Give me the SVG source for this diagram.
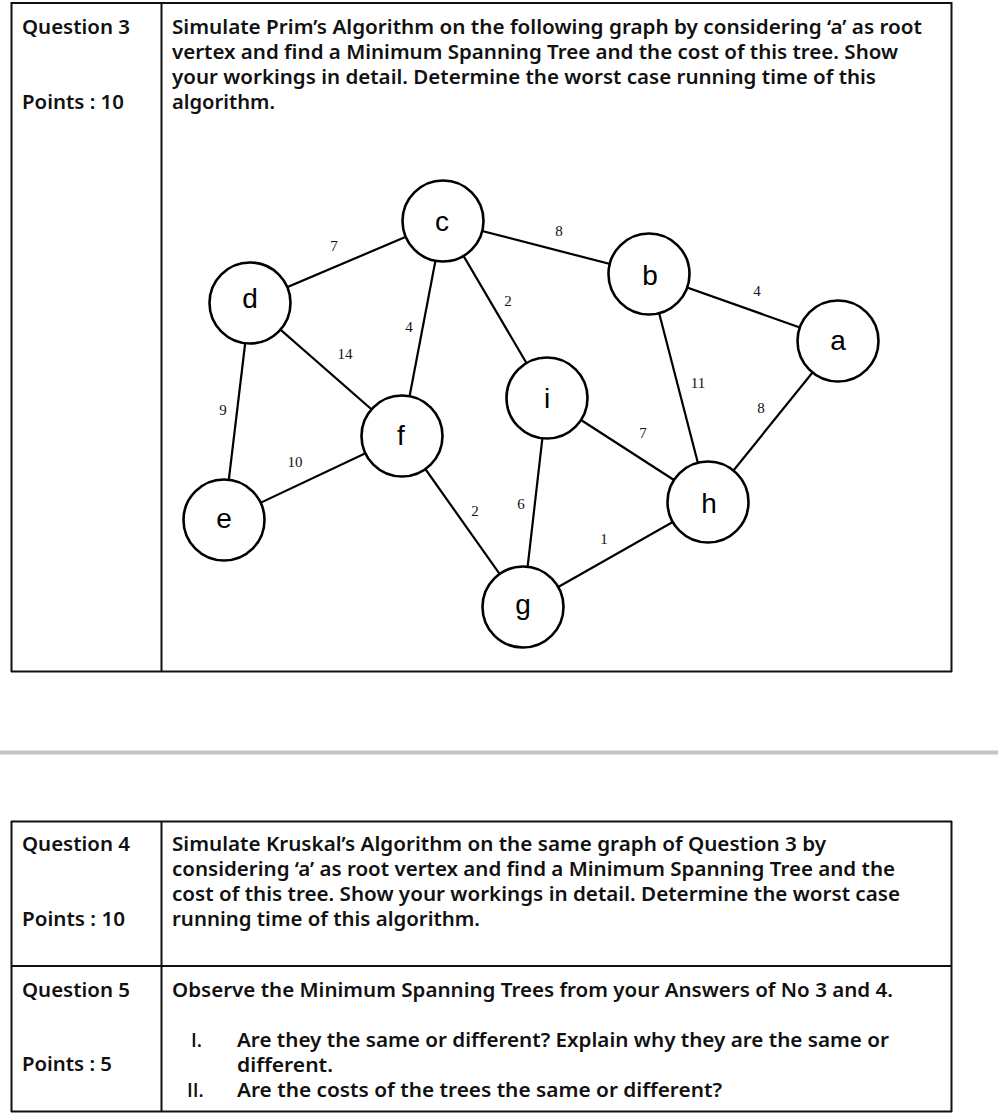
<svg xmlns="http://www.w3.org/2000/svg" width="998" height="1113" viewBox="0 0 998 1113">
<style>
.t{font-family:"Noto Sans","Open Sans",sans-serif;font-size:19px;font-weight:600;fill:#111}
.rn{font-family:"Open Sans","Liberation Sans",sans-serif}
.tb{fill:none;stroke:#111;stroke-width:2}
.edge{stroke:#000;stroke-width:2.2;fill:none}
.node circle{fill:#fff;stroke:#000;stroke-width:2.6}
.nl{font-family:"Liberation Sans",Arial,sans-serif;font-size:28px;fill:#000;text-anchor:middle}
.wl{font-family:"Liberation Serif","Times New Roman",serif;font-size:15px;fill:#111;text-anchor:middle}
</style>
<rect width="998" height="1113" fill="#fff"/>
<g id="table-q3">
<line class="tb" x1="11" y1="3" x2="952" y2="3"/>
<line class="tb" x1="11.5" y1="2" x2="11.5" y2="672"/>
<line class="tb" x1="161.5" y1="2" x2="161.5" y2="672"/>
<line class="tb" x1="951.5" y1="2" x2="951.5" y2="672"/>
<line class="tb" x1="11" y1="671.5" x2="952" y2="671.5"/>
<text class="t" x="22" y="34" textLength="108" lengthAdjust="spacingAndGlyphs">Question 3</text>
<text class="t" x="22" y="109" textLength="102" lengthAdjust="spacingAndGlyphs">Points : 10</text>
<text class="t" x="172" y="34" textLength="750" lengthAdjust="spacingAndGlyphs">Simulate Prim’s Algorithm on the following graph by considering ‘a’ as root</text>
<text class="t" x="172" y="59" textLength="726" lengthAdjust="spacingAndGlyphs">vertex and find a Minimum Spanning Tree and the cost of this tree. Show</text>
<text class="t" x="172" y="84" textLength="704" lengthAdjust="spacingAndGlyphs">your workings in detail. Determine the worst case running time of this</text>
<text class="t" x="172" y="109" textLength="103" lengthAdjust="spacingAndGlyphs">algorithm.</text>
</g>
<g id="connectors">
<line class="edge" x1="250" y1="303" x2="443" y2="221"/>
<line class="edge" x1="250" y1="303" x2="402" y2="436"/>
<line class="edge" x1="250" y1="303" x2="224" y2="520"/>
<line class="edge" x1="443" y1="221" x2="402" y2="436"/>
<line class="edge" x1="443" y1="221" x2="547" y2="398"/>
<line class="edge" x1="443" y1="221" x2="649" y2="274"/>
<line class="edge" x1="649" y1="274" x2="838" y2="341"/>
<line class="edge" x1="649" y1="274" x2="708" y2="502"/>
<line class="edge" x1="838" y1="341" x2="708" y2="502"/>
<line class="edge" x1="547" y1="398" x2="708" y2="502"/>
<line class="edge" x1="547" y1="398" x2="523" y2="607"/>
<line class="edge" x1="402" y1="436" x2="224" y2="520"/>
<line class="edge" x1="402" y1="436" x2="523" y2="607"/>
<line class="edge" x1="523" y1="607" x2="708" y2="502"/>
<g id="weights">
<text class="wl" x="334" y="251">7</text>
<text class="wl" x="559" y="236">8</text>
<text class="wl" x="508" y="306">2</text>
<text class="wl" x="757" y="296">4</text>
<text class="wl" x="409" y="332">4</text>
<text class="wl" x="345" y="359">14</text>
<text class="wl" x="698" y="388">11</text>
<text class="wl" x="223" y="415">9</text>
<text class="wl" x="761" y="413">8</text>
<text class="wl" x="643" y="438">7</text>
<text class="wl" x="295" y="467">10</text>
<text class="wl" x="475" y="516">2</text>
<text class="wl" x="521" y="509">6</text>
<text class="wl" x="604" y="544">1</text>
</g>
</g>
<g id="node-c" class="node"><circle cx="443" cy="221" r="40.5"/><text class="nl" x="442" y="231">c</text></g>
<g id="node-d" class="node"><circle cx="250" cy="303" r="40.5"/><text class="nl" x="250" y="308">d</text></g>
<g id="node-b" class="node"><circle cx="649" cy="274" r="40.5"/><text class="nl" x="650" y="285">b</text></g>
<g id="node-a" class="node"><circle cx="838" cy="341" r="40.5"/><text class="nl" x="838" y="350">a</text></g>
<g id="node-i" class="node"><circle cx="547" cy="398" r="40.5"/><text class="nl" x="547" y="408">i</text></g>
<g id="node-f" class="node"><circle cx="402" cy="436" r="40.5"/><text class="nl" x="401" y="445">f</text></g>
<g id="node-e" class="node"><circle cx="224" cy="520" r="40.5"/><text class="nl" x="224" y="528">e</text></g>
<g id="node-g" class="node"><circle cx="523" cy="607" r="40.5"/><text class="nl" x="523" y="614">g</text></g>
<g id="node-h" class="node"><circle cx="708" cy="502" r="40.5"/><text class="nl" x="709" y="513">h</text></g>
<rect id="separator" x="0" y="750.5" width="998" height="4" fill="#c4c4c4"/>
<g id="table-q4-q5">
<line class="tb" x1="11" y1="821.5" x2="952" y2="821.5"/>
<line class="tb" x1="11.5" y1="821" x2="11.5" y2="1112"/>
<line class="tb" x1="161.5" y1="821" x2="161.5" y2="1112"/>
<line class="tb" x1="951.5" y1="821" x2="951.5" y2="1112"/>
<line class="tb" x1="11" y1="966" x2="952" y2="966"/>
<line class="tb" x1="11" y1="1111.5" x2="952" y2="1111.5"/>
<text class="t" x="22" y="851" textLength="108" lengthAdjust="spacingAndGlyphs">Question 4</text>
<text class="t" x="22" y="926" textLength="103" lengthAdjust="spacingAndGlyphs">Points : 10</text>
<text class="t" x="172" y="851" textLength="654" lengthAdjust="spacingAndGlyphs">Simulate Kruskal’s Algorithm on the same graph of Question 3 by</text>
<text class="t" x="172" y="876" textLength="723" lengthAdjust="spacingAndGlyphs">considering ‘a’ as root vertex and find a Minimum Spanning Tree and the</text>
<text class="t" x="172" y="901" textLength="728" lengthAdjust="spacingAndGlyphs">cost of this tree. Show your workings in detail. Determine the worst case</text>
<text class="t" x="172" y="926" textLength="308" lengthAdjust="spacingAndGlyphs">running time of this algorithm.</text>
<text class="t" x="22" y="997" textLength="108" lengthAdjust="spacingAndGlyphs">Question 5</text>
<text class="t" x="22" y="1071" textLength="90" lengthAdjust="spacingAndGlyphs">Points : 5</text>
<text class="t" x="172" y="997" textLength="721" lengthAdjust="spacingAndGlyphs">Observe the Minimum Spanning Trees from your Answers of No 3 and 4.</text>
<text class="t rn" x="191" y="1047">I.</text>
<text class="t" x="237" y="1047" textLength="652" lengthAdjust="spacingAndGlyphs">Are they the same or different? Explain why they are the same or</text>
<text class="t" x="237" y="1071.5" textLength="96" lengthAdjust="spacingAndGlyphs">different.</text>
<text class="t rn" x="187" y="1096.5">II.</text>
<text class="t" x="237" y="1096.5" textLength="485" lengthAdjust="spacingAndGlyphs">Are the costs of the trees the same or different?</text>
</g>
</svg>
